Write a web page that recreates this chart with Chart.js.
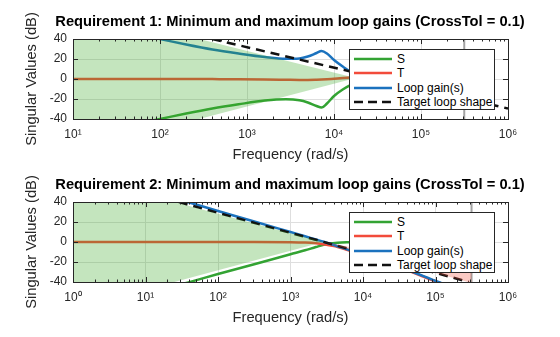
<!DOCTYPE html>
<html>
<head>
<meta charset="utf-8">
<script src="https://cdn.jsdelivr.net/npm/chart.js@4.4.0/dist/chart.umd.min.js"></script>
<style>
  body { margin: 0; background: #fff; }
  #wrap { position: relative; width: 560px; height: 337px; overflow: hidden; font-family: "Liberation Sans", Arial, sans-serif; }
  .box { position: absolute; left: 0; width: 560px; height: 168px; }
  .legend { position: absolute; left: 349px; width: 144px; height: 59px; background: #fff; border: 1px solid #262626; font-size: 12px; color: #000; }
  .legend .row { position: absolute; left: 0; width: 100%; height: 14px; line-height: 14px; }
  .legend svg { position: absolute; left: 4px; top: 5px; }
  .legend span { position: absolute; left: 47px; top: 0; white-space: nowrap; }
</style>
</head>
<body>
<div id="wrap">
  <div class="box" style="top:0"><canvas id="req1" width="560" height="168"></canvas></div>
  <div class="box" style="top:163px"><canvas id="req2" width="560" height="168"></canvas></div>
  <div class="legend" style="top:49px" id="leg1"></div>
  <div class="legend" style="top:212px" id="leg2"></div>
</div>
<script>
// ==============================================================
// Requirement 1 (rad/s, dB)
// ==============================================================
const freq1 = [10, 100, 200, 400, 800, 1600, 2800, 4000, 5000, 6300, 7200, 8300, 10000, 12600, 15800, 20000, 32000, 100000, 316000];
const loop1 = [58, 40, 34.5, 29.5, 25.5, 22, 20.2, 20.6, 22.5, 26, 28, 25.5, 19, 12.5, 7, 3.5, -2, -14, -24];
const sens1 = [-58, -40, -34.5, -29.5, -25.3, -21.6, -20.3, -21.3, -23.5, -27, -28.5, -24.5, -17, -10.5, -5.5, -2.5, 0, 0.3, 0];
const comp1 = [0, 0, 0, -0.1, -0.2, -0.4, -0.7, -0.9, -0.9, -0.7, -0.5, -0.2, 0.3, 0.9, 1.6, 2.2, 0, -12, -23];
const targetFreq1 = [398, 1000000];
const target1 = [40, -29.5];
const bandFreq1 = [10, 282, 17800];
const bandHi1 = [40, 40, 1];
const bandLo1 = [-40, -40, 1];

// ==============================================================
// Requirement 2
// ==============================================================
const freq2 = [1, 10, 38, 100, 316, 1000, 1585, 2240, 2950, 4470, 6310, 7940, 15850, 39810, 109650, 316000];
const loop2 = [73.5, 52.3, 40, 31.1, 20.5, 10, 5.8, 2.5, 0, -4.2, -7.8, -10.2, -17.5, -27.5, -40, -52];
const sens2 = [-72, -52, -40.6, -32, -22.2, -12.2, -8.3, -5, -2.6, -0.8, -0.2, 0, 0, 0, 0, 0];
const comp2 = [0, 0, 0, 0, 0, -0.2, -0.6, -1.3, -2.5, -5, -8.3, -10.7, -18, -28, -40.5, -52];
const targetFreq2 = [28.8, 288000];
const target2 = [40, -40];
const bandFreq2 = [1, 25, 2820];
const bandHi2 = [40, 40, 0];
const bandLo2 = [-40, -40, 0];
const pinkFreq2 = [2820, 316000];
const pinkHi2 = [0, -28];
const pinkLo2 = [0, -41];

const nyquist = 314159;
const yTicks = [-40, -20, 0, 20, 40];
const legendNames = ['S', 'T', 'Loop gain(s)', 'Target loop shape'];

const cS = '#33a333', cT = '#f24b3b', cL = '#1b72be', cTarget = '#111111';
const sup = {'0': '\u2070', '1': '\u00b9', '2': '\u00b2', '3': '\u00b3', '4': '\u2074', '5': '\u2075', '6': '\u2076'};

Chart.defaults.font.family = '"Liberation Sans", Arial, sans-serif';
Chart.defaults.color = '#262626';

function pts(xs, ys) {
    return xs.map((x, i) => ({x: x, y: ys[i]}));
}

function isDecade(v) {
    const l = Math.log10(v);
    return Math.abs(l - Math.round(l)) < 1e-6;
}

// box + inward tick marks, the way matlab draws its axes
const frame = {
    id: 'frame',
    afterDatasetsDraw(chart) {
        const {ctx, chartArea: a, scales: {x, y}} = chart;
        ctx.save();
        ctx.strokeStyle = '#262626';
        ctx.lineWidth = 1;
        ctx.beginPath();
        x.ticks.forEach(t => {
            const px = Math.round(x.getPixelForValue(t.value)) + 0.5;
            const len = isDecade(t.value) ? 5 : 2.5;
            ctx.moveTo(px, a.bottom); ctx.lineTo(px, a.bottom - len);
            ctx.moveTo(px, a.top); ctx.lineTo(px, a.top + len);
        });
        y.ticks.forEach(t => {
            const py = Math.round(y.getPixelForValue(t.value)) + 0.5;
            ctx.moveTo(a.left, py); ctx.lineTo(a.left + 5, py);
            ctx.moveTo(a.right, py); ctx.lineTo(a.right - 5, py);
        });
        ctx.stroke();
        ctx.strokeRect(Math.round(a.left) + 0.5, Math.round(a.top) + 0.5,
            Math.round(a.right - a.left), Math.round(a.bottom - a.top));
        ctx.restore();
    }
};

function lineSet(label, data, color, extra) {
    return Object.assign({
        label: label, data: data, borderColor: color, backgroundColor: color,
        borderWidth: 2.5, pointRadius: 0, fill: false, order: 1,
        cubicInterpolationMode: 'monotone'
    }, extra || {});
}

function makeChart(id, title, xMin, d) {
    const datasets = [
        lineSet('Target loop shape', pts(d.tf, d.target), cTarget, {borderDash: [9, 6], cubicInterpolationMode: 'default'}),
        lineSet('Loop gain(s)', pts(d.f, d.loop), cL),
        lineSet('T', pts(d.f, d.comp), cT),
        lineSet('S', pts(d.f, d.sens), cS),
        lineSet('nyq', [{x: nyquist, y: -40}, {x: nyquist, y: 40}], '#a3a3a3', {borderWidth: 2, cubicInterpolationMode: 'default'}),
        {data: pts(d.bf, d.bhi), borderWidth: 0, pointRadius: 0, fill: '+1', backgroundColor: 'rgba(60,170,40,0.3)', order: 0},
        {data: pts(d.bf, d.blo), borderWidth: 0, pointRadius: 0, fill: false, order: 0}
    ];
    if (d.pf) {
        datasets.push({data: pts(d.pf, d.phi), borderWidth: 0, pointRadius: 0, fill: '+1', backgroundColor: 'rgba(240,80,60,0.3)', order: 0});
        datasets.push({data: pts(d.pf, d.plo), borderWidth: 0, pointRadius: 0, fill: false, order: 0});
    }
    return new Chart(document.getElementById(id).getContext('2d'), {
        type: 'line',
        data: {datasets: datasets},
        plugins: [frame],
        options: {
            responsive: false,
            animation: false,
            // title spans 20..560 so it centres over the plot (290)
            layout: {padding: {left: 20, right: 0, top: 0, bottom: 0}},
            plugins: {
                legend: {display: false},
                tooltip: {enabled: false},
                title: {
                    display: true, text: title, color: '#000',
                    font: {size: 14.7, weight: 'bold'},
                    padding: {top: 12.7, bottom: 8.7}
                }
            },
            scales: {
                x: {
                    type: 'logarithmic', min: xMin, max: 1e6,
                    afterBuildTicks: (s) => {
                        const t = [];
                        for (let e = Math.round(Math.log10(xMin)); e < 6; e++) {
                            for (let k = 1; k <= 9; k++) t.push({value: k * Math.pow(10, e)});
                        }
                        t.push({value: 1e6});
                        s.ticks = t;
                    },
                    afterFit: (s) => { s.height = 49; },
                    ticks: {
                        autoSkip: false, maxRotation: 0, padding: 8, font: {size: 12},
                        callback: (v) => isDecade(v) ? '10' + sup[String(Math.round(Math.log10(v)))] : ''
                    },
                    grid: {
                        drawTicks: false,
                        color: (c) => (c.tick && isDecade(c.tick.value)) ? '#dedede' : 'rgba(0,0,0,0)'
                    },
                    border: {display: false},
                    title: {display: true, text: 'Frequency (rad/s)', font: {size: 14.7}, padding: {top: 0, bottom: 4.2}}
                },
                y: {
                    min: -40, max: 40,
                    afterBuildTicks: (s) => { s.ticks = yTicks.map(v => ({value: v})); },
                    afterFit: (s) => { s.width = 53; },
                    ticks: {padding: 6, font: {size: 12}},
                    grid: {drawTicks: false, color: '#dedede'},
                    border: {display: false},
                    title: {display: true, text: 'Singular Values (dB)', font: {size: 14.7}, padding: {top: 3.2, bottom: 0}}
                },
                // empty right axis, only keeps the plot's right edge at 508
                yR: {
                    position: 'right',
                    afterFit: (s) => { s.width = 52; },
                    ticks: {display: false},
                    grid: {display: false, drawTicks: false},
                    border: {display: false}
                }
            }
        }
    });
}

function buildLegend(id) {
    const colors = [cS, cT, cL, cTarget];
    const el = document.getElementById(id);
    legendNames.forEach((name, i) => {
        const row = document.createElement('div');
        row.className = 'row';
        row.style.top = (1.5 + i * 14.5) + 'px';
        const dash = i === 3 ? ' stroke-dasharray="9 5"' : '';
        row.innerHTML = '<svg width="38" height="4"><line x1="0" y1="2" x2="38" y2="2" stroke="' + colors[i] +
            '" stroke-width="2.5"' + dash + '/></svg><span>' + name + '</span>';
        el.appendChild(row);
    });
}

makeChart('req1', 'Requirement 1: Minimum and maximum loop gains (CrossTol = 0.1)', 10, {
    f: freq1, loop: loop1, sens: sens1, comp: comp1,
    tf: targetFreq1, target: target1,
    bf: bandFreq1, bhi: bandHi1, blo: bandLo1
});
makeChart('req2', 'Requirement 2: Minimum and maximum loop gains (CrossTol = 0.1)', 1, {
    f: freq2, loop: loop2, sens: sens2, comp: comp2,
    tf: targetFreq2, target: target2,
    bf: bandFreq2, bhi: bandHi2, blo: bandLo2,
    pf: pinkFreq2, phi: pinkHi2, plo: pinkLo2
});
buildLegend('leg1');
buildLegend('leg2');
</script>
</body>
</html>
